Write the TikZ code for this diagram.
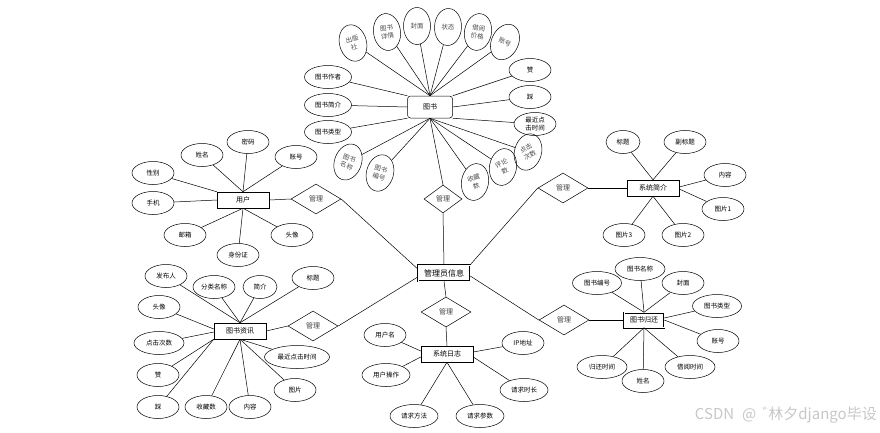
\documentclass[tikz,border=0pt]{standalone}
\usepackage{fontspec}
\setmainfont{Noto Sans CJK SC}
\usetikzlibrary{shapes.geometric}
\tikzset{
  attr/.style={draw,ellipse,inner sep=0pt,minimum width=42pt,minimum height=23pt,align=center,font=\fontsize{6.5}{7.5}\selectfont},
  vattr/.style={draw,ellipse,inner sep=0pt,minimum width=27pt,minimum height=37pt},
  vlab/.style={inner sep=0pt,align=center,font=\fontsize{6.5}{8}\selectfont,text=black!70},
  ent/.style={draw,rectangle,inner sep=0pt,minimum width=52pt,minimum height=16pt,font=\fontsize{7}{8}\selectfont},
  dent/.style={ent,double,double distance=1pt},
  rel/.style={draw,diamond,inner sep=0pt,minimum width=50pt,minimum height=30pt,font=\fontsize{7}{8}\selectfont,text=black!75},
}
\newcommand\vat[5]{%
  \node[vattr,rotate=#3] (#1) at (#2) {};
  \node[vlab,rotate=#4] at (#1) {#5};}
\begin{document}
\begin{tikzpicture}[x=1pt,y=-1pt,line width=0.5pt]
\useasboundingbox (0,0) rectangle (880,432);

% entities and relations
\node[ent,rounded corners=3pt,minimum width=45pt,minimum height=22pt] (book) at (430,107) {图书};
\node[rel,minimum width=38pt,minimum height=28pt] (relbook) at (443,199) {管理};
\node[dent,font=\fontsize{8}{9}\selectfont] (admin) at (444,273) {管理员信息};
\node[rel] (reluser) at (316,199) {管理};
\node[ent] (user) at (243,200) {用户};
\node[rel] (relintro) at (563,188) {管理};
\node[ent] (intro) at (653,188) {系统简介};
\node[rel] (relforum) at (313,326) {管理};
\node[ent] (forum) at (240,331) {图书资讯};
\node[rel] (rellog) at (446,312) {管理};
\node[ent] (log) at (447,354) {系统日志};
\node[rel] (relborrow) at (564,320) {管理};
\node[dent,minimum width=40pt,minimum height=15pt] (borrow) at (644,320) {图书归还};

% relation links
\draw (relbook.north) -- (book.south);
\draw (admin.north) -- (relbook.south);
\draw (reluser.east) -- ([yshift=4pt]admin.west);
\draw (reluser.west) -- (user.east);
\draw (admin.north east) -- (relintro.west);
\draw (relintro.east) -- (intro.west);
\draw ([yshift=-4pt]admin.west) -- (relforum.east);
\draw (relforum.west) -- (forum.east);
\draw (admin.south) -- (rellog.north);
\draw (rellog.south) -- (log.north);
\draw ([yshift=-3pt]admin.east) -- (relborrow.west);
\draw (relborrow.east) -- (borrow.west);

% book attributes
\vat{b1}{353,43}{15}{15}{出版\\社}
\vat{b2}{387,32}{8}{8}{图书\\详情}
\vat{b3}{417,26}{0}{0}{封面}
\vat{b4}{448,27}{-3}{-3}{状态}
\vat{b5}{478,32}{-10}{-10}{借阅\\价格}
\vat{b6}{505,42}{-25}{-25}{账号}
\node[attr] (b7) at (530,70) {赞};
\node[attr] (b8) at (530,97) {踩};
\node[attr] (b9) at (535,124) {最近点\\击时间};
\vat{b10}{528,152}{-15}{30}{点击\\次数}
\vat{b11}{503,167}{-10}{25}{评论\\数}
\vat{b12}{475,182}{-10}{20}{收藏\\数}
\vat{b13}{380,173}{-15}{-15}{图书\\编号}
\vat{b14}{348,162}{-20}{-20}{图书\\名称}
\node[attr,minimum width=47pt] (b15) at (328,132) {图书类型};
\node[attr,minimum width=47pt] (b16) at (328,105) {图书简介};
\node[attr,minimum width=47pt] (b17) at (328,77) {图书作者};
\foreach \n in {b1,b2,b3,b4,b5,b6} \draw (\n) -- (book.north);
\draw (b7) -- (book.north east);
\draw (b8) -- (book.east);
\draw (b9) -- (book.south east);
\foreach \n in {b10,b11,b12,b13,b14} \draw (\n) -- (book.south);
\draw (b15) -- (book.south west);
\draw (b16) -- (book.west);
\draw (b17) -- (book.north west);

% user attributes
\node[attr] (u1) at (153,173) {性别};
\node[attr] (u2) at (202,155) {姓名};
\node[attr] (u3) at (248,142) {密码};
\node[attr] (u4) at (296,157) {账号};
\node[attr] (u5) at (153,203) {手机};
\node[attr] (u6) at (185,235) {邮箱};
\node[attr] (u7) at (238,255) {身份证};
\node[attr] (u8) at (292,235) {头像};
\draw (u1) -- (user.north west);
\foreach \n in {u2,u3,u4} \draw (\n) -- (user.north);
\draw (u5) -- (user.west);
\foreach \n in {u6,u7,u8} \draw (\n) -- (user.south);

% intro attributes
\node[attr,minimum width=34pt] (i1) at (623,142) {标题};
\node[attr] (i2) at (685,142) {副标题};
\node[attr] (i3) at (725,175) {内容};
\node[attr] (i4) at (723,209) {图片1};
\node[attr] (i5) at (624,235) {图片3};
\node[attr] (i6) at (683,235) {图片2};
\foreach \n in {i1,i2} \draw (\n) -- (intro.north);
\draw (i3) -- ([yshift=1pt]intro.east);
\draw (i4) -- ([yshift=-1pt]intro.east);
\foreach \n in {i5,i6} \draw (\n) -- (intro.south);

% forum attributes
\node[attr] (f1) at (166,276) {发布人};
\node[attr] (f2) at (214,287) {分类名称};
\node[attr,minimum width=34pt] (f3) at (260,287) {简介};
\node[attr] (f4) at (313,278) {标题};
\node[attr] (f5) at (159,307) {头像};
\node[attr,minimum width=50pt] (f6) at (159,343) {点击次数};
\node[attr] (f7) at (158,375) {赞};
\node[attr] (f8) at (158,407) {踩};
\node[attr] (f9) at (206,407) {收藏数};
\node[attr] (f10) at (250,407) {内容};
\node[attr] (f11) at (295,390) {图片};
\node[attr,minimum width=65pt] (f12) at (297,357) {最近点击时间};
\foreach \n in {f1,f2,f3,f4} \draw (\n) -- (forum.north);
\draw (f5) -- ([yshift=2pt]forum.west);
\draw (f6) -- ([yshift=-1pt]forum.west);
\foreach \n in {f7,f8} \draw (\n) -- (forum.south west);
\foreach \n in {f9,f10,f11,f12} \draw (\n) -- (forum.south);

% log attributes
\node[attr] (l1) at (385,335) {用户名};
\node[attr,minimum width=48pt] (l2) at (386,375) {用户操作};
\node[attr] (l3) at (523,343) {IP地址};
\node[attr,minimum width=48pt] (l4) at (524,390) {请求时长};
\node[attr,minimum width=48pt] (l5) at (414,416) {请求方法};
\node[attr,minimum width=48pt] (l6) at (480,416) {请求参数};
\draw (l1) -- ([yshift=3pt]log.west);
\draw (l2) -- ([yshift=-3pt]log.west);
\draw (l3) -- ([yshift=2pt]log.east);
\draw (l4) -- ([yshift=-3pt]log.east);
\foreach \n in {l5,l6} \draw (\n) -- (log.south);

% borrow attributes
\node[attr,minimum width=49pt] (r1) at (597,283) {图书编号};
\node[attr,minimum width=50pt] (r2) at (640,269) {图书名称};
\node[attr] (r3) at (683,283) {封面};
\node[attr,minimum width=49pt] (r4) at (717,306) {图书类型};
\node[attr] (r5) at (718,341) {账号};
\node[attr,minimum width=50pt] (r6) at (690,367) {借阅时间};
\node[attr] (r7) at (643,381) {姓名};
\node[attr,minimum width=50pt] (r8) at (602,367) {归还时间};
\foreach \n in {r1,r2,r3} \draw (\n) -- (borrow.north);
\draw (r4) -- ([yshift=2pt]borrow.east);
\draw (r5) -- (borrow.east);
\foreach \n in {r6,r7,r8} \draw (\n) -- (borrow.south);

% watermark
\node[anchor=east,inner sep=0pt,text=black!22,font=\fontsize{15}{16}\selectfont] (wm) at (877,415) {CSDN\hspace{8pt}@\hspace{6pt}゛\hspace{-9pt}林夕django毕设};
\end{tikzpicture}
\end{document}
